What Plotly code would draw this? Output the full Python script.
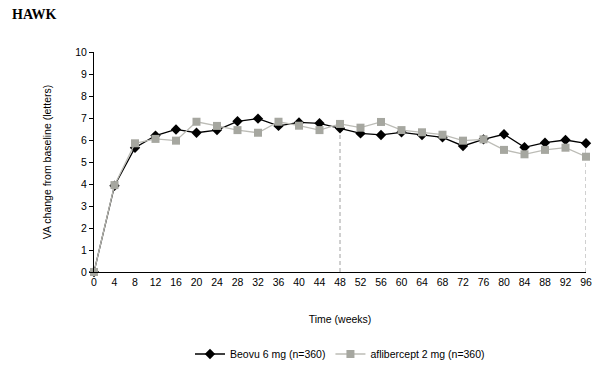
import plotly.graph_objects as go

weeks = [0, 4, 8, 12, 16, 20, 24, 28, 32, 36, 40, 44, 48, 52, 56, 60, 64, 68, 72, 76, 80, 84, 88, 92, 96]
beovu = [0, 3.92, 5.65, 6.2, 6.48, 6.33, 6.45, 6.85, 6.97, 6.64, 6.8, 6.76, 6.53, 6.3, 6.23, 6.35, 6.23, 6.12, 5.73, 6.03, 6.26, 5.67, 5.88, 6.0, 5.85]
aflibercept = [0, 3.95, 5.85, 6.05, 5.97, 6.83, 6.64, 6.45, 6.33, 6.83, 6.65, 6.45, 6.73, 6.56, 6.82, 6.45, 6.35, 6.24, 5.97, 6.03, 5.55, 5.35, 5.55, 5.65, 5.24]
beovu_name = "Beovu 6 mg (n=360)"
afli_name = "aflibercept 2 mg (n=360)"
marker_weeks = [48, 96]

font = "Liberation Sans"
L, R, T, B = 94, 23, 52, 96
W, H = 609, 368
pw, ph = W - L - R, H - T - B

fig = go.Figure()
fig.add_trace(go.Scatter(
    x=weeks, y=beovu, name=beovu_name, mode="lines+markers",
    line=dict(color="black", width=1.3),
    marker=dict(symbol="diamond", size=8, color="black"),
    cliponaxis=False,
))
fig.add_trace(go.Scatter(
    x=weeks, y=aflibercept, name=afli_name, mode="lines+markers",
    line=dict(color="#bcbcb6", width=1.3),
    marker=dict(symbol="square", size=8, color="#a6a7a0"),
    cliponaxis=False,
))

for w in marker_weeks:
    i = weeks.index(w)
    top = max(beovu[i], aflibercept[i])
    fig.add_shape(type="line", x0=w, x1=w, y0=0, y1=top, xref="x", yref="y",
                  line=dict(color="#a0a0a0", width=1, dash="4px,3px"), layer="below")

fig.update_layout(
    width=W, height=H,
    margin=dict(l=L, r=R, t=T, b=B, autoexpand=False),
    plot_bgcolor="white", paper_bgcolor="white",
    font=dict(family=font, size=10.5, color="black"),
    showlegend=True,
    legend=dict(orientation="h", x=(340 - L) / pw, xanchor="center",
                y=(272 - 354) / ph, yanchor="middle",
                font=dict(size=10.5), itemwidth=30, tracegroupgap=0),
    annotations=[dict(text="<b>HAWK</b>", x=(10 - L) / pw, y=1 + (T - 15) / ph,
                      xref="paper", yref="paper", xanchor="left", yanchor="middle",
                      showarrow=False, font=dict(family="Liberation Serif", size=14))],
)

fig.update_xaxes(range=[0, 96], tickmode="array", tickvals=weeks, showgrid=False,
                 zeroline=False, showline=True, linecolor="black", linewidth=1,
                 ticks="", tickfont=dict(size=10.5),
                 title=dict(text="Time (weeks)", standoff=29, font=dict(size=10.5)))
fig.update_yaxes(range=[0, 10], dtick=1, showgrid=False, zeroline=False,
                 showline=True, linecolor="black", linewidth=1,
                 ticks="outside", ticklen=4, tickcolor="black", tickfont=dict(size=10.5),
                 title=dict(text="VA change from baseline (letters)", standoff=21, font=dict(size=10.5)))

fig.write_html("out.html")
